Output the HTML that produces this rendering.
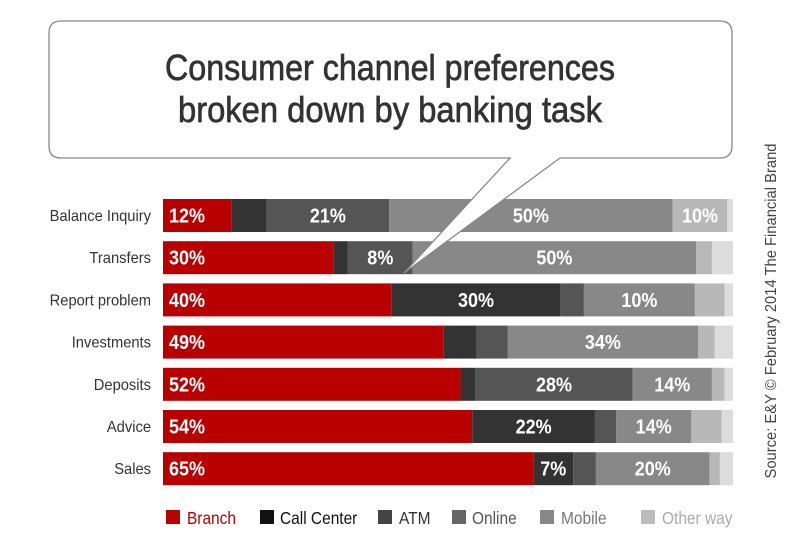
<!DOCTYPE html>
<html><head><meta charset="utf-8"><style>
html,body{margin:0;padding:0;background:#fff;}
svg{display:block;}
text{font-family:"Liberation Sans Narrow","Liberation Sans",sans-serif;}
</style></head><body>
<svg id="chart" width="797" height="542" viewBox="0 0 797 542" xmlns="http://www.w3.org/2000/svg">
  <g id="bars"></g>
  <g>
    <path d="M61,21 H720 Q732,21 732,33 V146 Q732,158 720,158 H560 L404,273 L510,158 H61 Q49,158 49,146 V33 Q49,21 61,21 Z" fill="#fff" stroke="#888" stroke-width="1.3"/>
    <text x="390" y="80" text-anchor="middle" font-size="36" fill="#333" stroke="#333" stroke-width="0.7" textLength="450" lengthAdjust="spacingAndGlyphs">Consumer channel preferences</text>
    <text x="390" y="122" text-anchor="middle" font-size="36" fill="#333" stroke="#333" stroke-width="0.7" textLength="424" lengthAdjust="spacingAndGlyphs">broken down by banking task</text>
  </g>
  <g id="legend"></g>
  <text transform="translate(776,311) rotate(-90)" text-anchor="middle" font-size="15.5" fill="#444" textLength="335" lengthAdjust="spacingAndGlyphs" style="font-family:'Liberation Sans',sans-serif">Source: E&amp;Y © February 2014 The Financial Brand</text>
</svg>
<script>
const categories = ["Balance Inquiry","Transfers","Report problem","Investments","Deposits","Advice","Sales"];
const seriesNames = ["Branch","Call Center","ATM","Online","Mobile","Other way"];
const branch     = [12, 30, 40.8, 49.3, 52.2, 54.2, 65.1];
const callCenter = [6.2, 2.5, 30.1, 5.8, 2.6, 21.5, 7];
const atm        = [21.5, 11.4, 4.2, 5.4, 27.6, 3.7, 4];
const online     = [49.8, 49.8, 19.8, 33.5, 13.9, 13.2, 20];
const mobile     = [9.6, 2.8, 5.3, 2.9, 2.2, 5.3, 1.8];
const otherWay   = [1, 3.7, 1.5, 3.2, 1.5, 2, 2.3];
const labels = [
  ["12%","","21%","50%","10%",""],
  ["30%","","8%","50%","",""],
  ["40%","30%","","10%","",""],
  ["49%","","","34%","",""],
  ["52%","","28%","14%","",""],
  ["54%","22%","","14%","",""],
  ["65%","7%","","20%","",""]
];
const NS="http://www.w3.org/2000/svg";
const series=[branch,callCenter,atm,online,mobile,otherWay];
const barColors=["#b80000","#333333","#555555","#888888","#b8b8b8","#dcdcdc"];
const legendSw=["#b80000","#111111","#444444","#666666","#888888","#bbbbbb"];
const legendTx=["#b80000","#111111","#333333","#555555","#777777","#aaaaaa"];
const X0=163, BAR_W=570, Y0=199, PITCH=42.2, BH=33;
const yPos=i=>Y0+i*PITCH;
const bars=document.getElementById('bars');
categories.forEach((c,i)=>{
  const y=yPos(i);
  let total=0; series.forEach(s=>total+=s[i]);
  const xScale=v=>v/total*BAR_W;
  const t=document.createElementNS(NS,'text');
  
  
  t.setAttribute('transform','translate(151,'+(y+BH/2+5.5)+') scale(0.92,1)');
  t.setAttribute('text-anchor','end');t.setAttribute('font-size','16');t.setAttribute('fill','#333');
  t.textContent=c;bars.appendChild(t);
  let x=X0;
  series.forEach((s,k)=>{
    const w=xScale(s[i]);
    const r=document.createElementNS(NS,'rect');
    
    
    r.setAttribute('x',x);r.setAttribute('y',y);r.setAttribute('width',w);r.setAttribute('height',BH);
    r.setAttribute('fill',barColors[k]);
    bars.appendChild(r);
    const lb=labels[i][k];
    if(lb){
      const tt=document.createElementNS(NS,'text');
      
      
      const tx=k===0?x+6:x+w/2;
      tt.setAttribute('transform','translate('+tx+','+(y+BH/2+7)+') scale(0.9,1)');
      tt.setAttribute('text-anchor',k===0?'start':'middle');
      tt.setAttribute('font-size','20');tt.setAttribute('font-weight','bold');tt.setAttribute('fill','#fff');
      tt.textContent=lb;bars.appendChild(tt);
    }
    x+=w;
  });
});
const leg=document.getElementById('legend');
const swX=[166,260,378,452,540,641], txX=[187,280,399,472,561,662];
seriesNames.forEach((n,k)=>{
  const r=document.createElementNS(NS,'rect');
  
  
  r.setAttribute('x',swX[k]);r.setAttribute('y',510);r.setAttribute('width',14);r.setAttribute('height',14);r.setAttribute('fill',legendSw[k]);
  leg.appendChild(r);
  const t=document.createElementNS(NS,'text');
  
  
  t.setAttribute('transform','translate('+txX[k]+',524) scale(0.86,1)');
  t.setAttribute('font-size','18');t.setAttribute('fill',legendTx[k]);
  t.textContent=n;leg.appendChild(t);
});
</script>
</body></html>
